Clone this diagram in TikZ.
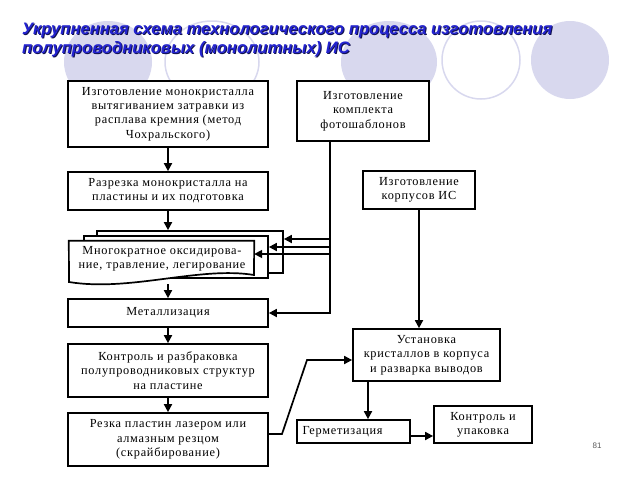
\documentclass[tikz,border=0pt]{standalone}
\usepackage{fontspec}
\setmainfont{Liberation Serif}
\newfontfamily\boxfont{Liberation Serif}[LetterSpace=6]
\newfontfamily\titlefont{Liberation Sans}
\usetikzlibrary{arrows.meta}

\definecolor{titleblue}{RGB}{34,34,208}
\definecolor{titleshade}{RGB}{18,18,80}
\definecolor{bgcircle}{RGB}{216,216,238}

\begin{document}
\begin{tikzpicture}[x=1pt, y=-1pt,
        box/.style={draw, line width=1.7pt, fill=white, align=center, inner sep=1pt,
            font=\boxfont\fontsize{12.3}{14.3}\selectfont},
        layer/.style={draw, line width=1.7pt, fill=white},
        arr/.style={line width=1.7pt, -{Triangle[length=8pt,width=8pt]}}]
        \useasboundingbox (0,0) rectangle (640,480);

        % Background circles
        \fill[bgcircle] (108,62) ellipse [x radius=44pt, y radius=41pt];
        \draw[bgcircle, line width=1.5pt] (212,62) ellipse [x radius=47pt, y radius=41pt];
        \fill[bgcircle] (389,62) ellipse [x radius=48pt, y radius=41pt];
        \draw[bgcircle, line width=1.5pt] (481,60) ellipse [x radius=39pt, y radius=39pt];
        \fill[bgcircle] (570,60) ellipse [x radius=39pt, y radius=39pt];

        % Title
        \node[anchor=north west, inner sep=0, align=left, text=titleshade,
            font=\titlefont\bfseries\itshape\fontsize{16.6}{18.5}\selectfont] (titleshadow) at (23,24)
            {Укрупненная схема технологического процесса изготовления\\полупроводниковых (монолитных) ИС};
        \node[anchor=north west, inner sep=0, align=left, text=titleblue,
            font=\titlefont\bfseries\itshape\fontsize{16.6}{18.5}\selectfont] (title) at (22,23)
            {Укрупненная схема технологического процесса изготовления\\полупроводниковых (монолитных) ИС};

        % Left column
        \node[box, minimum width=200pt, minimum height=66pt] (mono) at (168,114)
            {Изготовление монокристалла\\вытягиванием затравки из\\расплава кремния (метод\\Чохральского)};
        \node[box, minimum width=200pt, minimum height=38pt] (razr) at (168,191)
            {Разрезка монокристалла на\\пластины и их подготовка};

        % Stacked layers
        \node[layer, minimum width=186pt, minimum height=42pt] (oksA) at (190,252) {};
        \node[layer, minimum width=184pt, minimum height=42pt] (oksB) at (176,257) {};
        \node[minimum width=185pt, minimum height=43pt, inner sep=0] (oksC) at (161.5,262.5) {};
        \draw[layer] (oksC.north west) -- (oksC.north east) -- (254,275)
            .. controls (200,266) and (130,292) .. (69,282) -- cycle;
        \node[box, draw=none, fill=none] (oks) at (162,259)
            {Многократное оксидирова-\\ние, травление, легирование};

        \node[box, minimum width=200pt, minimum height=28pt] (metal) at (168,313) {Металлизация};
        \node[box, minimum width=200pt, minimum height=53pt] (kontr) at (168,370.5)
            {Контроль и разбраковка\\полупроводниковых структур\\на пластине};
        \node[box, minimum width=200pt, minimum height=53pt] (rezka) at (168,439.5)
            {Резка пластин лазером или\\алмазным резцом\\(скрайбирование)};

        % Right column
        \node[box, minimum width=132pt, minimum height=60pt] (foto) at (363,111)
            {Изготовление\\комплекта\\фотошаблонов};
        \node[box, minimum width=112pt, minimum height=38pt] (korp) at (419,190)
            {Изготовление\\корпусов ИС};
        \node[box, minimum width=147pt, minimum height=52pt] (ust) at (426.5,355)
            {Установка\\кристаллов в корпуса\\и разварка выводов};
        \node[box, minimum width=113pt, minimum height=23pt, text width=102pt, align=left] (germ) at (353.5,431.5)
            {Герметизация};
        \node[box, minimum width=98pt, minimum height=37pt] (upak) at (483,424.5)
            {Контроль и\\упаковка};

        % Page number
        \node[font=\titlefont\fontsize{8}{9}\selectfont, text=black!65] (page) at (597,446) {81};

        % Arrows down the left column
        \draw[arr] (mono.south) -- (razr.north);
        \draw[arr] (razr.south) -- (razr.south |- oksA.north);
        \draw[arr] (oksC.south -| metal.north) -- (metal.north);
        \draw[arr] (metal.south) -- (kontr.north);
        \draw[arr] (kontr.south) -- (rezka.north);

        % Photomasks to every layer and to metallization
        \coordinate (fj) at (330,313);
        \draw[arr] (foto.south -| fj) -- (fj) -- (metal.east);
        \foreach \l/\y in {oksA/239, oksB/247, oksC/254}
            \draw[arr] (fj |- 0,\y) -- (\l.east |- 0,\y);

        % Packages and assembly
        \draw[arr] (korp.south) -- (korp.south |- ust.north);
        \draw[arr] (rezka.east |- 0,434) -- (282,434) -- (307,360) -- (ust.west |- 0,360);
        \draw[arr] (ust.south -| 368,0) -- (germ.north -| 368,0);
        \draw[arr] (germ.east |- 0,436) -- (upak.west |- 0,436);
\end{tikzpicture}
\end{document}
